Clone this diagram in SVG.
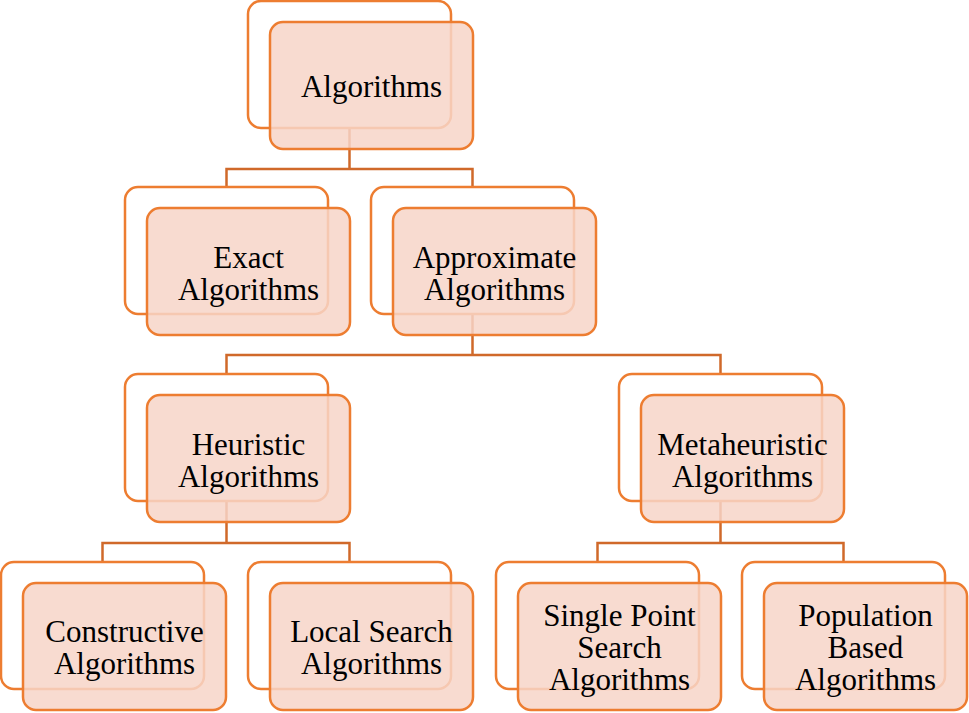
<svg xmlns="http://www.w3.org/2000/svg" width="969" height="713" viewBox="0 0 969 713">
<style>
.back{fill:#ffffff;stroke:#ED7D31;stroke-width:2.5}
.front{fill:rgb(247,213,200);fill-opacity:0.85;stroke:#ED7D31;stroke-width:2.5}
.conn{fill:none;stroke:#D0692A;stroke-width:2.5}
text{font-family:"Liberation Serif","Times New Roman",serif;font-size:31px;fill:#000;text-anchor:middle}
</style>
<rect width="969" height="713" fill="#ffffff"/>
<g id="connectors">
<path class="conn" d="M349.5 128 V169 M226.5 187 V169 H472.5 V187"/>
<path class="conn" d="M472.5 314 V355 M226.5 374 V355 H720.5 V374"/>
<path class="conn" d="M226.5 501 V543 M102.5 562 V543 H349.5 V562"/>
<path class="conn" d="M720.5 501 V543 M597.5 562 V543 H843.5 V562"/>
</g>
<g id="algorithms">
<rect class="back" x="248" y="1" width="203" height="127" rx="13"/>
<rect class="front" x="270" y="22" width="203" height="127" rx="13"/>
<text x="371.5" y="97">Algorithms</text>
</g>
<g id="exact">
<rect class="back" x="125" y="187" width="203" height="127" rx="13"/>
<rect class="front" x="147" y="208" width="203" height="127" rx="13"/>
<text x="248.5" y="268">Exact</text>
<text x="248.5" y="300">Algorithms</text>
</g>
<g id="approximate">
<rect class="back" x="371" y="187" width="203" height="127" rx="13"/>
<rect class="front" x="393" y="208" width="203" height="127" rx="13"/>
<text x="494.5" y="268">Approximate</text>
<text x="494.5" y="300">Algorithms</text>
</g>
<g id="heuristic">
<rect class="back" x="125" y="374" width="203" height="127" rx="13"/>
<rect class="front" x="147" y="395" width="203" height="127" rx="13"/>
<text x="248.5" y="455">Heuristic</text>
<text x="248.5" y="487">Algorithms</text>
</g>
<g id="metaheuristic">
<rect class="back" x="619" y="374" width="203" height="127" rx="13"/>
<rect class="front" x="641" y="395" width="203" height="127" rx="13"/>
<text x="742.5" y="455">Metaheuristic</text>
<text x="742.5" y="487">Algorithms</text>
</g>
<g id="constructive">
<rect class="back" x="1" y="562" width="203" height="127" rx="13"/>
<rect class="front" x="23" y="583" width="203" height="127" rx="13"/>
<text x="124.5" y="642">Constructive</text>
<text x="124.5" y="674">Algorithms</text>
</g>
<g id="localsearch">
<rect class="back" x="248" y="562" width="203" height="127" rx="13"/>
<rect class="front" x="270" y="583" width="203" height="127" rx="13"/>
<text x="371.5" y="642">Local Search</text>
<text x="371.5" y="674">Algorithms</text>
</g>
<g id="singlepoint">
<rect class="back" x="496" y="562" width="203" height="127" rx="13"/>
<rect class="front" x="518" y="583" width="203" height="127" rx="13"/>
<text x="619.5" y="626">Single Point</text>
<text x="619.5" y="658">Search</text>
<text x="619.5" y="690">Algorithms</text>
</g>
<g id="population">
<rect class="back" x="742" y="562" width="203" height="127" rx="13"/>
<rect class="front" x="764" y="583" width="203" height="127" rx="13"/>
<text x="865.5" y="626">Population</text>
<text x="865.5" y="658">Based</text>
<text x="865.5" y="690">Algorithms</text>
</g>
</svg>
